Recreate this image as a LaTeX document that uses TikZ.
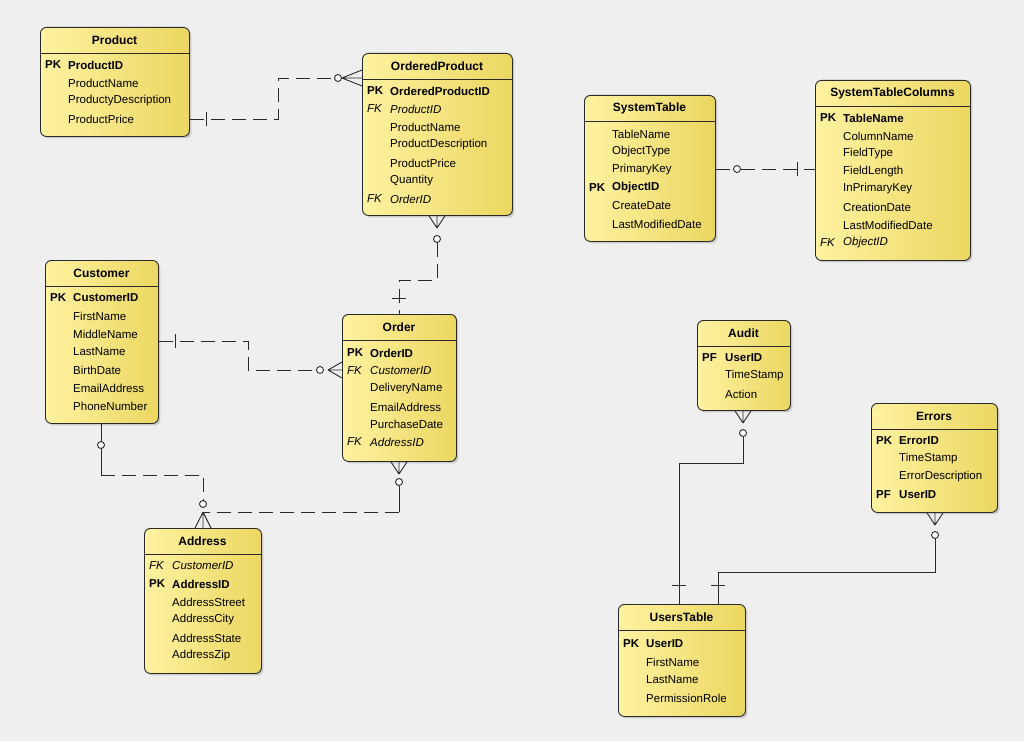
\documentclass[tikz,border=0pt]{standalone}
\usepackage{fontspec}
\setmainfont{Liberation Sans}
\usetikzlibrary{shadows}
\definecolor{bg}{HTML}{EFEFEF}
\definecolor{lc}{HTML}{2A2A2A}
\tikzset{
 ent/.style={draw=lc,line width=0.9pt,rounded corners=6pt,left color=yellow!30!white!90!orange,right color=brown!45!yellow!70!white,
   drop shadow={shadow xshift=2pt,shadow yshift=-2pt,fill=black!35},inner sep=0pt,anchor=north west},
 ttl/.style={font=\bfseries\fontsize{12}{14}\selectfont,inner sep=0pt},
 rw/.style={font=\fontsize{11.5}{13}\selectfont,inner sep=0pt,anchor=west},
 rel/.style={draw=lc,line width=0.9pt,dash pattern=on 14pt off 7pt},
 sol/.style={draw=lc,line width=0.9pt},
 sym/.style={draw=lc,line width=0.9pt},
 circ/.style={draw=lc,line width=0.9pt,fill=white}
}
\newcommand\ent[7]{%
 \node[ent,minimum width={#4pt-#2pt},minimum height={#5pt-#3pt}] (#1) at (#2,#3) {};
 \draw[lc,line width=0.9pt] (#2,#6)--(#4,#6);
 \node[ttl] (#1t) at ({(#2+#4)/2},{(#3+#6)/2}) {#7};}
\newcommand\pk[4]{\node[rw,font=\bfseries\fontsize{11.5}{13}\selectfont] at (#1+5,#2) {#3};\node[rw,font=\bfseries\fontsize{11.5}{13}\selectfont] at (#1+28,#2) {#4};}
\newcommand\fk[3]{\node[rw,font=\itshape\fontsize{11.5}{13}\selectfont] at (#1+5,#2) {FK};\node[rw,font=\itshape\fontsize{11.5}{13}\selectfont] at (#1+28,#2) {#3};}
\newcommand\pl[3]{\node[rw] at (#1+28,#2) {#3};}
\begin{document}
\begin{tikzpicture}[x=1pt,y=-1pt]
\fill[bg] (0,0) rectangle (1024,741);
\useasboundingbox (0,0) rectangle (1024,741);
% entities
\ent{product}{40}{27}{189}{136}{53}{Product}
\pk{40}{65}{PK}{ProductID}\pl{40}{83}{ProductName}\pl{40}{101}{ProductyDescription}\pl{40}{119}{ProductPrice}
\ent{ordprod}{362}{53}{512}{215}{79}{OrderedProduct}
\pk{362}{91}{PK}{OrderedProductID}\fk{362}{109}{ProductID}\pl{362}{127}{ProductName}\pl{362}{145}{ProductDescription}\pl{362}{163}{ProductPrice}\pl{362}{181}{Quantity}\fk{362}{199}{OrderID}
\ent{systab}{584}{95}{715}{241}{121}{SystemTable}
\pl{584}{134}{TableName}\pl{584}{152}{ObjectType}\pl{584}{170}{PrimaryKey}\pk{584}{188}{PK}{ObjectID}\pl{584}{206}{CreateDate}\pl{584}{224}{LastModifiedDate}
\ent{syscol}{815}{80}{970}{260}{106}{SystemTableColumns}
\pk{815}{118}{PK}{TableName}\pl{815}{136}{ColumnName}\pl{815}{154}{FieldType}\pl{815}{172}{FieldLength}\pl{815}{189}{InPrimaryKey}\pl{815}{207}{CreationDate}\pl{815}{225}{LastModifiedDate}\fk{815}{243}{ObjectID}
\ent{customer}{45}{260}{158}{423}{286}{Customer}
\pk{45}{298}{PK}{CustomerID}\pl{45}{316}{FirstName}\pl{45}{334}{MiddleName}\pl{45}{352}{LastName}\pl{45}{370}{BirthDate}\pl{45}{388}{EmailAddress}\pl{45}{406}{PhoneNumber}
\ent{order}{342}{314}{456}{461}{340}{Order}
\pk{342}{353}{PK}{OrderID}\fk{342}{371}{CustomerID}\pl{342}{389}{DeliveryName}\pl{342}{407}{EmailAddress}\pl{342}{424}{PurchaseDate}\fk{342}{442}{AddressID}
\ent{address}{144}{528}{261}{673}{554}{Address}
\fk{144}{566}{CustomerID}\pk{144}{584}{PK}{AddressID}\pl{144}{602}{AddressStreet}\pl{144}{620}{AddressCity}\pl{144}{638}{AddressState}\pl{144}{656}{AddressZip}
\ent{audit}{697}{320}{790}{410}{346}{Audit}
\pk{697}{358}{PF}{UserID}\pl{697}{376}{TimeStamp}\pl{697}{394}{Action}
\ent{errors}{871}{403}{997}{512}{429}{Errors}
\pk{871}{441}{PK}{ErrorID}\pl{871}{459}{TimeStamp}\pl{871}{477}{ErrorDescription}\pk{871}{495}{PF}{UserID}
\ent{users}{618}{604}{745}{716}{630}{UsersTable}
\pk{618}{644}{PK}{UserID}\pl{618}{662}{FirstName}\pl{618}{680}{LastName}\pl{618}{698}{PermissionRole}
% Product - OrderedProduct
\draw[rel] (product.east|-0,119) -- (278,119) -- (278,78) -- (334,78);
\draw[sym] (206,112)--(206,126);
\draw[sym] (342,78)--(ordprod.west|-0,78) (342,78)--(ordprod.west|-0,70) (342,78)--(ordprod.west|-0,86);
\draw[circ] (338,78) circle (3.5);
% OrderedProduct - Order
\draw[rel] (437,243) -- (437,280) -- (399,280) -- (order.north-|399,0);
\draw[sym] (392,298)--(406,298);
\draw[sym] (437,228)--(ordprod.south-|437,0) (437,228)--(ordprod.south-|429,0) (437,228)--(ordprod.south-|445,0);
\draw[circ] (437,239) circle (3.5);
% Customer - Order
\draw[rel] (customer.east|-0,341) -- (248,341) -- (248,370) -- (316,370);
\draw[sym] (175,334)--(175,348);
\draw[sym] (328,370)--(order.west|-0,370) (328,370)--(order.west|-0,362) (328,370)--(order.west|-0,378);
\draw[circ] (320,370) circle (3.5);
% Customer - Address
\draw[sol] (customer.south-|101,0) -- (101,475);
\draw[rel] (101,475) -- (203,475) -- (203,500);
\draw[circ] (101,445) circle (3.5);
\draw[sym] (203,512)--(address.north-|203,0) (203,512)--(address.north-|195,0) (203,512)--(address.north-|211,0);
\draw[circ] (203,504) circle (3.5);
% Order - Address
\draw[sol] (399,486)--(399,512);
\draw[rel] (399,512)--(203,512);
\draw[sym] (399,474)--(order.south-|399,0) (399,474)--(order.south-|391,0) (399,474)--(order.south-|407,0);
\draw[circ] (399,482) circle (3.5);
% SystemTable - SystemTableColumns
\draw[rel] (systab.east|-0,169) -- (733,169);
\draw[rel] (741,169) -- (syscol.west|-0,169);
\draw[circ] (737,169) circle (3.5);
\draw[sym] (797,162)--(797,176);
% Audit - UsersTable
\draw[sym] (743,423)--(audit.south-|743,0) (743,423)--(audit.south-|735,0) (743,423)--(audit.south-|751,0);
\draw[circ] (743,433) circle (3.5);
\draw[sol] (743,437)--(743,463)--(679,463)--(users.north-|679,0);
\draw[sym] (672,585)--(686,585);
% Errors - UsersTable
\draw[sym] (935,525)--(errors.south-|935,0) (935,525)--(errors.south-|927,0) (935,525)--(errors.south-|943,0);
\draw[circ] (935,535) circle (3.5);
\draw[sol] (935,539)--(935,572)--(718,572)--(users.north-|718,0);
\draw[sym] (711,585)--(725,585);
\end{tikzpicture}
\end{document}
